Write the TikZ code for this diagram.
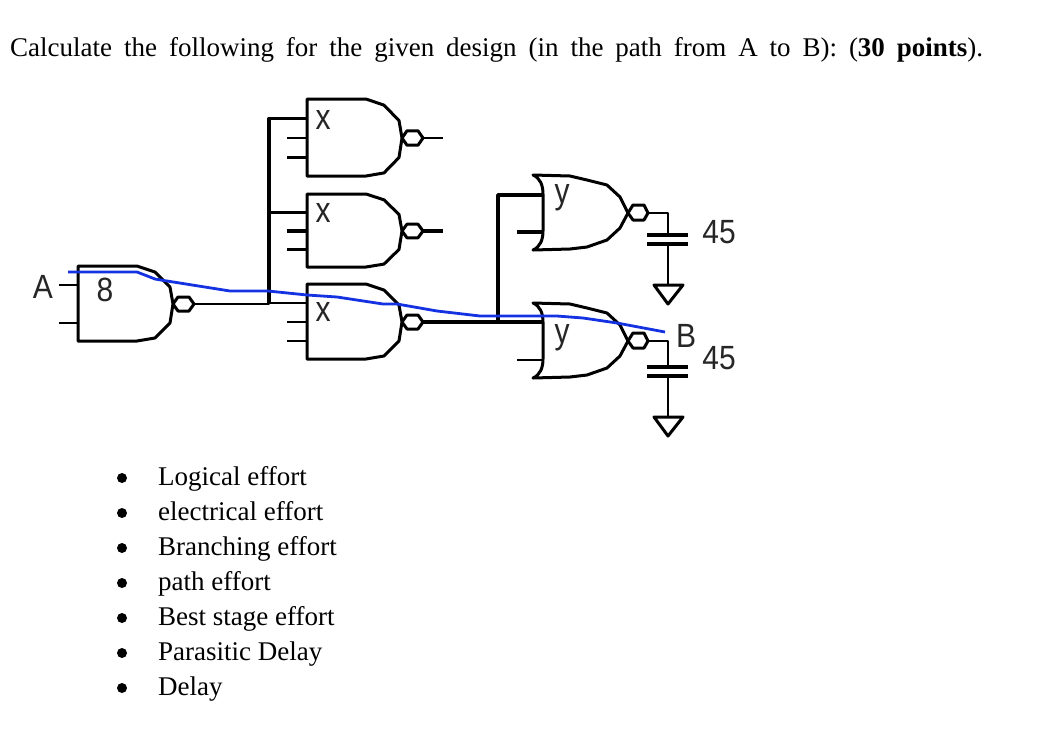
\documentclass[tikz,border=0pt]{standalone}
\usepackage{fontspec}
\setmainfont{Liberation Serif}
\newfontfamily\arialf{Liberation Sans}
\definecolor{pathblue}{RGB}{20,50,225}
\newcommand{\tallx}[1]{\scalebox{1}[1.2]{#1}}
\newcommand{\talld}[1]{\scalebox{1}[1.12]{#1}}
\tikzset{
  x=1pt,y=-1pt,
  wire/.style={line width=2.7pt,black,line cap=butt,line join=round},
  heavy/.style={line width=3.8pt,black,line join=round},
  gateline/.style={line width=3pt,black,line join=round},
  lab/.style={font=\arialf\fontsize{30}{30}\selectfont,inner sep=0pt,text=black!85,anchor=base},
  para/.style={font=\fontsize{27}{27}\selectfont,inner sep=0pt,anchor=base west},
  dot/.style={circle,fill=black,inner sep=0pt,minimum size=10pt},
  nandgate/.pic={
    \draw[gateline] (59,0) -- (0,0) -- (0,75) -- (59,75) -- (77,72) -- (92,57) -- (95,38) -- (92,21) -- (77,6) -- cycle;
    \draw[gateline] (95,38) -- (100,31) -- (111,31) -- (116,38) -- (111,45) -- (100,45) -- cycle;
    \coordinate (-i1) at (0,19);
    \coordinate (-i2) at (0,38);
    \coordinate (-i3) at (0,57);
    \coordinate (-o) at (116,38);
  },
  norgate/.pic={
    \draw[gateline] (0,0) -- (37,1) -- (54,5) -- (74,10) -- (87,22) -- (95,38) -- (87,53) -- (74,65) -- (54,72) -- (37,74) -- (0,75) .. controls (7,72) and (10,65) .. (10,56) -- (10,19) .. controls (10,10) and (7,3) .. cycle;
    \draw[gateline] (95,38) -- (100,30) -- (111,30) -- (115,38) -- (111,45) -- (100,45) -- cycle;
    \coordinate (-i1) at (10,20);
    \coordinate (-i2) at (10,57);
    \coordinate (-o) at (115,38);
  },
  loadcap/.pic={
    \draw[heavy] (-21,0) -- (20,0);
    \draw[heavy] (-21,9) -- (20,9);
    \draw[gateline] (-14,50) -- (15,50) -- (0,69) -- cycle;
    \coordinate (-t) at (0,0);
    \coordinate (-b) at (0,9);
    \coordinate (-g) at (0,50);
  }
}
\begin{document}
\begin{tikzpicture}
\useasboundingbox (0,0) rectangle (1050,740);
\fill[white] (0,0) rectangle (1050,740);

% title
\node[para] (title) at (10,56) {\makebox[973pt][s]{Calculate the following for the given design (in the path from A to B): (\textbf{30 points}).}};

% gates
\pic (ga) at (78,266) {nandgate};
\pic[yscale=77/75] (g1) at (307,99) {nandgate};
\pic[yscale=73/75] (g2) at (307,194) {nandgate};
\pic (g3) at (307,284) {nandgate};
\pic (n1) at (533,175) {norgate};
\pic (n2) at (533,303) {norgate};
\pic (c1) at (668,235) {loadcap};
\pic (c2) at (668,367) {loadcap};

% free ends, level with their pins
\coordinate (a1) at (59,0 |- ga-i1);
\coordinate (a2) at (59,0 |- ga-i3);
\coordinate (j1) at (269,0 |- g3-i1);
\coordinate (j2) at (269,0 |- g1-i1);
\coordinate (j3) at (269,0 |- g2-i1);
\coordinate (s12) at (287,0 |- g1-i2);
\coordinate (s13) at (287,0 |- g1-i3);
\coordinate (s22) at (287,0 |- g2-i2);
\coordinate (s23) at (287,0 |- g2-i3);
\coordinate (s32) at (287,0 |- g3-i2);
\coordinate (s33) at (287,0 |- g3-i3);
\coordinate (e1) at (443,0 |- g1-o);
\coordinate (e2) at (443,0 |- g2-o);
\coordinate (k1) at (498,0 |- g3-o);
\coordinate (k2) at (498,0 |- n1-i1);
\coordinate (t12) at (517,0 |- n1-i2);
\coordinate (t22) at (517,0 |- n2-i2);
\coordinate (d1) at (c1-t |- n1-o);
\coordinate (d2) at (c2-t |- n2-o);

% wires
\draw[wire] (a1) -- (ga-i1);
\draw[wire] (a2) -- (ga-i3);
\draw[wire] (ga-o) -- (ga-o -| j1) -- (j1) -- (g3-i1);
\draw[heavy] (j1) -- (j2) -- (g1-i1);
\draw[wire] (j3) -- (g2-i1);
\draw[wire] (s12) -- (g1-i2);
\draw[wire] (s13) -- (g1-i3);
\draw[heavy] (s22) -- (g2-i2);
\draw[wire] (s23) -- (g2-i3);
\draw[wire] (s32) -- (g3-i2);
\draw[wire] (s33) -- (g3-i3);
\draw[wire] (g1-o) -- (e1);
\draw[heavy] (g2-o) -- (e2);
\draw[heavy] (g3-o) -- (k1) -- (k1 -| n2-i1);
\draw[heavy] (k1) -- (k2) -- (n1-i1);
\draw[heavy] (t12) -- (n1-i2);
\draw[wire] (t22) -- (n2-i2);
\draw[wire] (n1-o) -- (d1) -- (c1-t);
\draw[wire] (n2-o) -- (d2) -- (c2-t);
\draw[wire] (c1-b) -- (c1-g);
\draw[wire] (c2-b) -- (c2-g);

% labels
\node[lab] (la) at (43,298) {\talld{A}};
\node[lab] (l8) at (105,301) {\talld{8}};
\node[lab] (lx1) at (323,129) {\tallx{x}};
\node[lab] (lx2) at (323,222) {\tallx{x}};
\node[lab] (lx3) at (323,321) {\tallx{x}};
\node[lab] (ly1) at (562,203) {\tallx{y}};
\node[lab] (ly2) at (562,343) {\tallx{y}};
\node[lab] (l45a) at (719,243) {\talld{45}};
\node[lab] (lb) at (686,347) {\talld{B}};
\node[lab] (l45b) at (719,369) {\talld{45}};

% blue path
\coordinate (p0) at (68,272);
\coordinate (p1) at (665,332);
\draw[pathblue,line width=2.8pt,line join=round] (p0) -- (137,272) -- (155,279) -- (167,281) -- (230,291) -- (268,291) -- (307,295) -- (337,297) -- (383,304) -- (397,304) -- (437,311) -- (480,316) -- (557,316) -- (583,318) -- (617,323) -- (p1);

% list
\foreach \yy/\tx [count=\i] in {485/Logical effort,520/electrical effort,555/Branching effort,590/path effort,625/Best stage effort,660/Parasitic Delay,695/Delay}{
  \node[dot] (b\i) at (122,\yy-7) {};
  \node[para] (t\i) at (158,\yy) {\tx};
}
\end{tikzpicture}
\end{document}
